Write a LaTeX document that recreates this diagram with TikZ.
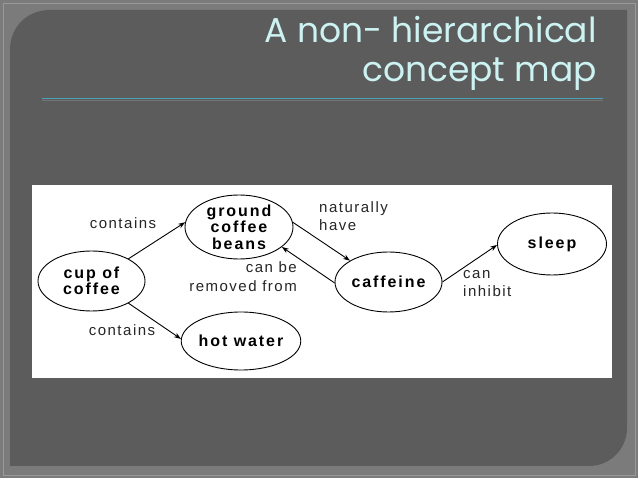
\documentclass[tikz,border=0pt]{standalone}
\usepackage{fontspec}
\usetikzlibrary{shapes.geometric,arrows.meta}
\newfontfamily\titlefont{Poppins}
\newfontfamily\labfont[LetterSpace=10]{Liberation Sans}
\newfontfamily\nodefont[LetterSpace=12]{Liberation Sans}
\definecolor{frame}{HTML}{7B7B7B}
\definecolor{panel}{HTML}{5C5C5C}
\definecolor{titlecol}{HTML}{CDF2F2}
\definecolor{rulecol}{HTML}{4AA3B8}
\tikzset{
  concept/.style={ellipse, draw=black, line width=0.9pt, fill=white, inner sep=0pt,
    align=center, font=\nodefont\bfseries\fontsize{16}{16.5}\selectfont},
  link/.style={-{Stealth[length=7pt,width=5pt]}, line width=0.9pt, black},
  lab/.style={font=\labfont\fontsize{15}{18}\selectfont, inner sep=0pt, text=black!85},
  ttl/.style={font=\titlefont\fontsize{34.5}{39}\selectfont, inner sep=0pt, anchor=base east}
}
\begin{document}
\begin{tikzpicture}[x=1pt,y=-1pt]
\useasboundingbox (0,0) rectangle (638,478);
\fill[frame] (0,0) rectangle (638,478);
\draw[black!40, line width=0.6pt] (3,3) rectangle (635,475);
\fill[panel] (10,50) .. controls (10,27) and (27,10) .. (50,10) -- (627,10) -- (627,428)
  .. controls (627,449) and (610,466) .. (589,466) -- (10,466) -- cycle;
% title
\node[ttl, text=titlecol] (t1) at (597,43) {A non- hierarchical};
\node[ttl, text=titlecol] (t2) at (597,82) {concept map};
\coordinate (rl) at (42,99);
\coordinate (rr) at (603,99);
\draw[black!55, line width=1pt] ([yshift=-1.2pt]rl) -- ([yshift=-1.2pt]rr);
\draw[rulecol, line width=1pt] (rl) -- (rr);
% image area
\fill[white] (32,185) rectangle (612,378);
% nodes
\node[concept, minimum width=107pt, minimum height=60pt] (cup) at (91.5,281) {cup of\\coffee};
\node[concept, minimum width=108pt, minimum height=64pt] (ground) at (239,227) {ground\\coffee\\beans};
\node[concept, minimum width=108pt, minimum height=58pt] (hot) at (241,341) {hot water};
\node[concept, minimum width=107pt, minimum height=60pt] (caff) at (388.5,282) {caffeine};
\node[concept, minimum width=109pt, minimum height=62pt] (sleep) at (552,244) {sleep};
% links
\draw[link] (cup.31) -- (ground.175);
\draw[link] (cup.-31) -- (hot.178);
\draw[link] (ground.5) -- (caff.151);
\draw[link] (caff.181) -- (ground.-25);
\draw[link] (caff.0) -- (sleep.181);
% labels
\node[lab, anchor=base] (l1) at (123,229) {contains};
\node[lab, anchor=base] (l2) at (122,336) {contains};
\node[lab, anchor=base east, align=right] (l3) at (297,273) {can be};
\node[lab, anchor=base east, align=right] (l3b) at (297,292) {removed from};
\node[lab, anchor=base west] (l4) at (319,213) {naturally};
\node[lab, anchor=base west] (l4b) at (319,231) {have};
\node[lab, anchor=base west] (l5) at (463,279) {can};
\node[lab, anchor=base west] (l5b) at (463,297) {inhibit};
\end{tikzpicture}
\end{document}
